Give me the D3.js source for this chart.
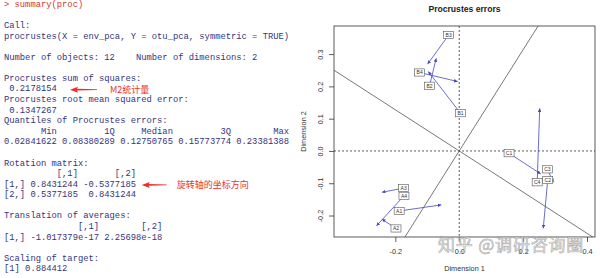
<!DOCTYPE html>
<html>
<head>
<meta charset="utf-8">
<script src="https://cdn.jsdelivr.net/npm/d3@7"></script>
<style>
  body { margin: 0; background: #fff; }
  svg { display: block; }
</style>
</head>
<body>
<div id="chart"></div>
<script>
// R console output shown on the left
const promptLine = '> summary(proc)'
const consoleLines = [
  '',
  'Call:',
  'procrustes(X = env_pca, Y = otu_pca, symmetric = TRUE)',
  '',
  'Number of objects: 12    Number of dimensions: 2',
  '',
  'Procrustes sum of squares:',
  ' 0.2178154',
  'Procrustes root mean squared error:',
  ' 0.1347267',
  'Quantiles of Procrustes errors:',
  '       Min         1Q     Median         3Q        Max ',
  '0.02841622 0.08380289 0.12750765 0.15773774 0.23381388 ',
  '',
  'Rotation matrix:',
  '          [,1]       [,2]',
  '[1,] 0.8431244 -0.5377185',
  '[2,] 0.5377185  0.8431244',
  '',
  'Translation of averages:',
  '              [,1]        [,2]',
  '[1,] -1.017379e-17 2.25698e-18',
  '',
  'Scaling of target:',
  '[1] 0.884412'
]
// red notes: [line index, text]
const notes = [[7, 'M2统计量'], [16, '旋转轴的坐标方向']]

// procrustes plot data
const sites = ['A1', 'A2', 'A3', 'A4', 'B1', 'B2', 'B3', 'B4', 'C1', 'C2', 'C3', 'C4']
const rotX = [-0.188, -0.198, -0.174, -0.173, 0.004, -0.093, -0.033, -0.124, 0.156, 0.277, 0.276, 0.244]
const rotY = [-0.186, -0.240, -0.115, -0.139, 0.117, 0.202, 0.359, 0.243, -0.007, -0.090, -0.057, -0.097]
const tgtX = [-0.056, -0.242, -0.242, -0.259, -0.097, -0.072, -0.099, -0.005, 0.255, 0.263, 0.295, 0.252]
const tgtY = [-0.167, -0.211, -0.128, -0.232, 0.246, 0.287, 0.269, 0.215, -0.071, -0.240, -0.097, 0.132]
const rotation = [[0.8431244, -0.5377185], [0.5377185, 0.8431244]]
const xTicks = [-0.2, 0, 0.2, 0.4]
const yTicks = [-0.2, -0.1, 0, 0.1, 0.2, 0.3]
const xDomain = [-0.392, 0.425]
const yDomain = [-0.2665, 0.387]

const width = 600
const height = 278
const svg = d3.select('#chart')
  .append('svg')
  .attr('width', width)
  .attr('height', height)

// ---- console text ----
const mono = '"Liberation Mono", "Courier New", monospace'
const lineH = 10.58
const lineY = i => 14.4 + i * lineH

svg.append('text')
  .attr('x', 4)
  .attr('y', lineY(-1) + 3)
  .style('white-space', 'pre')
  .style('font-family', mono)
  .style('font-size', '8.8px')
  .attr('fill', '#d2342c')
  .text(promptLine)

svg.append('g')
  .selectAll('text')
  .data(consoleLines)
  .enter()
  .append('text')
  .attr('x', 4)
  .attr('y', (d, i) => lineY(i) + 3)
  .style('white-space', 'pre')
  .style('font-family', mono)
  .style('font-size', '8.8px')
  .attr('fill', '#34347e')
  .text(d => d)

const noteX = [[70, 97, 110], [141.7, 166.7, 176.7]]
notes.forEach(([idx, txt], k) => {
  const cy = lineY(idx) + 1.2
  const [tip, tail, tx] = noteX[k]
  svg.append('path')
    .attr('d', `M${tip},${cy} L${tip + 8},${cy - 3} L${tip + 7},${cy - 0.9} L${tail},${cy - 0.4} L${tail},${cy + 0.4} L${tip + 7},${cy + 0.9} L${tip + 8},${cy + 3} Z`)
    .attr('fill', '#e8322d')
  svg.append('text')
    .attr('x', tx)
    .attr('y', cy + 3.3)
    .style('font-family', '"Noto Sans CJK SC", sans-serif')
    .style('font-size', '9px')
    .attr('fill', '#e8322d')
    .text(txt)
})

// ---- procrustes errors plot ----
const plot = { left: 334, right: 595, top: 26, bottom: 237 }
const x = d3.scaleLinear().domain(xDomain).range([plot.left, plot.right])
const y = d3.scaleLinear().domain(yDomain).range([plot.bottom, plot.top])
const sans = '"Liberation Sans", Arial, sans-serif'
const ink = '#333'
const blue = '#4646c8'

const defs = svg.append('defs')
defs.append('clipPath').attr('id', 'clip')
  .append('rect')
  .attr('x', plot.left).attr('y', plot.top)
  .attr('width', plot.right - plot.left).attr('height', plot.bottom - plot.top)
defs.append('marker')
  .attr('id', 'head')
  .attr('viewBox', '0 0 10 10')
  .attr('refX', 10).attr('refY', 5)
  .attr('markerWidth', 3.6).attr('markerHeight', 3.6)
  .attr('markerUnits', 'userSpaceOnUse')
  .attr('orient', 'auto')
  .append('path')
  .attr('d', 'M0,0 L10,5 L0,10 Z')
  .attr('fill', blue)

const inner = svg.append('g').attr('clip-path', 'url(#clip)')

// reference lines at 0
inner.append('line')
  .attr('x1', x(0)).attr('x2', x(0))
  .attr('y1', plot.top).attr('y2', plot.bottom)
  .attr('stroke', ink).attr('stroke-width', 0.8).attr('stroke-dasharray', '2,2')
inner.append('line')
  .attr('x1', plot.left).attr('x2', plot.right)
  .attr('y1', y(0)).attr('y2', y(0))
  .attr('stroke', ink).attr('stroke-width', 0.8).attr('stroke-dasharray', '2,2')

// rotated axes
const slopes = [rotation[0][0] / rotation[1][0], rotation[0][1] / rotation[1][1]]
inner.selectAll('.rot')
  .data(slopes)
  .enter()
  .append('line')
  .attr('class', 'rot')
  .attr('x1', x(xDomain[0])).attr('y1', b => y(b * xDomain[0]))
  .attr('x2', x(xDomain[1])).attr('y2', b => y(b * xDomain[1]))
  .attr('stroke', '#555').attr('stroke-width', 0.8)

// errors
const idx = d3.range(sites.length)
inner.selectAll('.err')
  .data(idx)
  .enter()
  .append('line')
  .attr('class', 'err')
  .attr('x1', i => x(rotX[i])).attr('y1', i => y(rotY[i]))
  .attr('x2', i => x(tgtX[i])).attr('y2', i => y(tgtY[i]))
  .attr('stroke', blue).attr('stroke-width', 0.8)
  .attr('marker-end', 'url(#head)')

const lab = inner.selectAll('.lab')
  .data(idx)
  .enter()
  .append('g')
  .attr('class', 'lab')
  .attr('transform', i => `translate(${x(rotX[i])},${y(rotY[i])})`)
lab.append('rect')
  .attr('x', -5).attr('y', -3.6).attr('width', 10).attr('height', 7.2)
  .attr('fill', '#fff').attr('stroke', '#555').attr('stroke-width', 0.6)
lab.append('text')
  .attr('text-anchor', 'middle')
  .attr('dy', '0.36em')
  .style('font-family', sans)
  .style('font-size', '5px')
  .attr('fill', ink)
  .text(i => sites[i])

// axes
const xAxis = svg.append('g')
  .attr('transform', `translate(0,${plot.bottom})`)
  .call(d3.axisBottom(x).tickValues(xTicks).tickSize(5).tickPadding(6.5).tickFormat(d => d.toFixed(1)))
const yAxis = svg.append('g')
  .attr('transform', `translate(${plot.left},0)`)
  .call(d3.axisLeft(y).tickValues(yTicks).tickSize(5).tickFormat(d => d.toFixed(1)))
;[xAxis, yAxis].forEach(a => {
  a.select('.domain').remove()
  a.selectAll('line').attr('stroke', ink).attr('stroke-width', 0.8)
  a.selectAll('text')
    .style('font-family', sans)
    .style('font-size', '7.3px')
    .attr('fill', ink)
})
yAxis.selectAll('text')
  .attr('x', null)
  .attr('dy', '0.35em')
  .attr('text-anchor', 'middle')
  .attr('transform', 'translate(-13.3,0) rotate(-90)')

svg.append('rect')
  .attr('x', plot.left).attr('y', plot.top)
  .attr('width', plot.right - plot.left).attr('height', plot.bottom - plot.top)
  .attr('fill', 'none').attr('stroke', ink).attr('stroke-width', 0.8)

svg.append('text')
  .attr('x', (plot.left + plot.right) / 2)
  .attr('y', 12.3)
  .attr('text-anchor', 'middle')
  .style('font-family', sans)
  .style('font-size', '8.6px')
  .style('font-weight', 'bold')
  .attr('fill', '#222')
  .text('Procrustes errors')
svg.append('text')
  .attr('x', (plot.left + plot.right) / 2)
  .attr('y', 271.3)
  .attr('text-anchor', 'middle')
  .style('font-family', sans)
  .style('font-size', '7.3px')
  .attr('fill', ink)
  .text('Dimension 1')
svg.append('text')
  .attr('transform', `translate(305.6,${(plot.top + plot.bottom) / 2}) rotate(-90)`)
  .attr('text-anchor', 'middle')
  .style('font-family', sans)
  .style('font-size', '7.3px')
  .attr('fill', ink)
  .text('Dimension 2')

// watermark
svg.append('text')
  .attr('x', 438)
  .attr('y', 251)
  .style('font-family', '"Noto Sans CJK SC", sans-serif')
  .style('font-size', '17px')
  .style('letter-spacing', '0.8px')
  .attr('fill', 'rgba(235,235,235,0.7)')
  .attr('stroke', 'rgba(120,120,120,0.55)')
  .attr('stroke-width', 0.7)
  .text('知乎 @调研咨询圈')
</script>
</body>
</html>
